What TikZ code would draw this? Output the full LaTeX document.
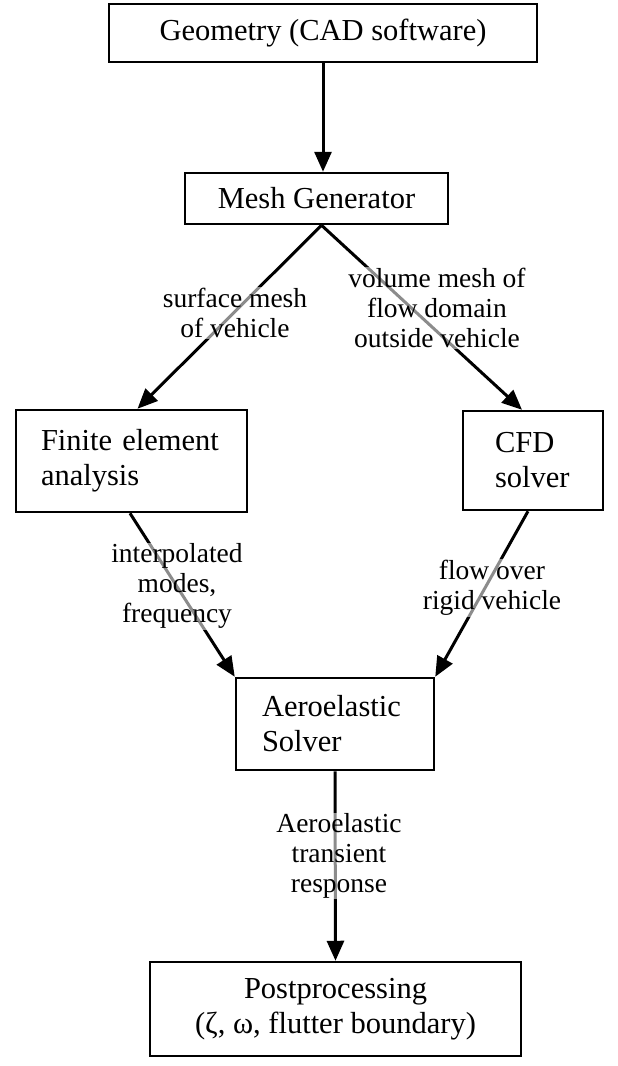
\documentclass[tikz,border=0pt]{standalone}
\usepackage{fontspec}
\setmainfont{Liberation Serif}
\usetikzlibrary{arrows.meta}
\begin{document}
\begin{tikzpicture}[x=1pt,y=-1pt,
  box/.style={draw, line width=2.5pt, font=\fontsize{30.5}{35}\selectfont, inner sep=0pt},
  lbl/.style={font=\fontsize{27.5}{30}\selectfont, align=center, fill=white, fill opacity=0.55, text opacity=1, inner sep=1pt},
  arr/.style={line width=3pt, -{Triangle[length=20pt,width=17pt]}}]
\useasboundingbox[fill=white] (0,0) rectangle (618,1066);
\node[box, minimum width=428pt, minimum height=58pt, align=center] (geo) at (323,33) {Geometry (CAD software)};
\node[box, minimum width=263pt, minimum height=51pt, align=center] (mesh) at (316.5,198.5) {Mesh Generator};
\node[box, minimum height=102pt, text width=181pt, inner xsep=25pt, align=left] (fea) at (131.5,461) {Finite element\\analysis};
\node[box, minimum height=99pt, text width=76pt, inner xsep=32pt, align=left] (cfd) at (533,460.5) {CFD\\solver};
\node[box, minimum height=92pt, text width=146pt, inner xsep=26pt, align=left] (aero) at (335,724) {Aeroelastic\\Solver};
\node[box, minimum width=371pt, minimum height=94pt, align=center] (post) at (335.5,1009) {Postprocessing\\(ζ, ω, flutter boundary)};
\draw[arr] (geo.south) -- (geo.south |- mesh.north);
\draw[arr] ([xshift=5pt]mesh.south) -- ([xshift=6pt]fea.north);
\draw[arr] ([xshift=5pt]mesh.south) -- ([xshift=-11pt]cfd.north);
\draw[arr] ([xshift=-1.5pt]fea.south) -- (aero.north west);
\draw[arr] ([xshift=-5pt]cfd.south) -- (aero.north east);
\draw[arr] (aero.south) -- (post.north);
\node[lbl] (l1) at (235,313) {surface mesh\\of vehicle};
\node[lbl] (l2) at (437,308) {volume mesh of\\flow domain\\outside vehicle};
\node[lbl] (l3) at (177,586) {interpolated\\modes,\\frequency};
\node[lbl] (l4) at (492,588) {flow over\\rigid vehicle};
\node[lbl] (l5) at (339,856) {Aeroelastic\\transient\\response};
\end{tikzpicture}
\end{document}
